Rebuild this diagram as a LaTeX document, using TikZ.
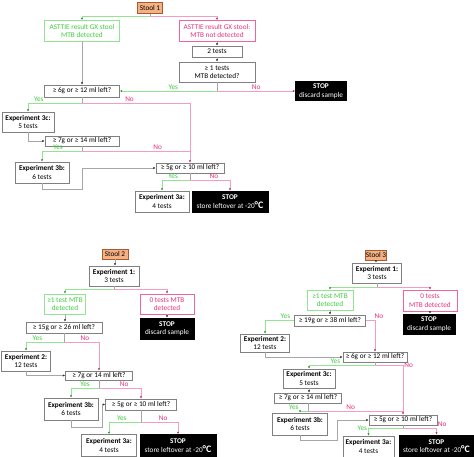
\documentclass[tikz,border=0pt]{standalone}
\usepackage{fontspec}
\setmainfont{Carlito}
\usepackage{tikz}
\usetikzlibrary{positioning,arrows.meta,calc}

\definecolor{lgreen}{HTML}{92E492}
\definecolor{tgreen}{HTML}{3CCB3C}
\definecolor{lpink}{HTML}{F59CC2}
\definecolor{tpink}{HTML}{E8307C}
\definecolor{stoolfill}{HTML}{F4B183}
\definecolor{stooldraw}{HTML}{A85A30}

\tikzset{
  box/.style={draw=gray, line width=0.6pt, align=center, inner sep=0pt,
    font=\fontsize{6.2}{7.3}\selectfont},
  sz/.style 2 args={minimum width=#1*0.03cm, minimum height=#2*0.03cm},
  stoolbox/.style={box, fill=stoolfill, draw=stooldraw},
  greenbox/.style={box, draw=lgreen, text=tgreen},
  pinkbox/.style={box, draw=tpink!75, text=tpink},
  stopbox/.style={box, fill=black, draw=black, text=white},
  gline/.style={gray!70, line width=0.5pt, -{Latex[length=2pt,width=2pt,color=black!85]}},
  yline/.style={lgreen, line width=0.5pt, -{Latex[length=2pt,width=2pt,color=tgreen!70!black]}},
  nline/.style={lpink, line width=0.5pt, -{Latex[length=2pt,width=2pt,color=tpink!80!black]}},
  ylbl/.style={text=tgreen, font=\fontsize{6.2}{7.3}\selectfont, inner sep=1pt},
  nlbl/.style={text=tpink, font=\fontsize{6.2}{7.3}\selectfont, inner sep=1pt}
}
\newcommand{\degC}{{\fontsize{8.5}{8.5}\selectfont\bfseries °C}}

\begin{document}
\begin{tikzpicture}[x=0.03cm,y=-0.03cm]
            \useasboundingbox (0,0) rectangle (474,457);

            \node[stoolbox, sz={25}{11}] (s1) at (150,8) {Stool 1};
            \node[greenbox, sz={75}{21}] (ggx) at (82,31) {ASTTIE result GX stool\\MTB detected};
            \node[pinkbox, sz={76}{21}] (pgx) at (217,31) {ASTTIE result GX stool:\\MTB not detected};
            \node[box, sz={50}{11}] (t2) at (217,51.5) {2 tests};
            \node[box, sz={76}{20}] (q1) at (217,72) {≥ 1 tests\\MTB detected?};
            \node[stopbox, sz={51}{19}] (stop1) at (321,91) {\textbf{STOP}\\discard sample};
            \node[box, sz={75}{12}] (q6) at (82,91) {≥ 6g or ≥ 12 ml left?};
            \node[box, sz={52}{20}] (e3c) at (28,122) {\textbf{Experiment 3c:}\\5 tests};
            \node[box, sz={74}{10}] (q7) at (82,141) {≥ 7g or ≥ 14 ml left?};
            \node[box, sz={54}{21}] (e3b) at (42,172.5) {\textbf{Experiment 3b:}\\6 tests};
            \node[box, sz={68}{10}] (q5) at (190,168) {≥ 5g or ≥ 10 ml left?};
            \node[box, sz={54}{21}] (e3a) at (162,201.5) {\textbf{Experiment 3a:}\\4 tests};
            \node[stopbox, sz={76}{21}] (stop2) at (230,201.5) {\textbf{STOP}\\store leftover at -20\degC};

            \coordinate (j1) at (150,16);
            \coordinate (j2) at (217,91);
            \coordinate (j3) at (82,103);
            \coordinate (j4) at (82,151);
            \coordinate (j5) at (190,180);
            \draw[gline,-] (s1.south) -- (j1);
            \draw[yline] (j1) -| (ggx.north);
            \draw[nline] (j1) -| (pgx.north);
            \draw[gline] (pgx.south) -- (t2.north);
            \draw[gline] (t2.south) -- (q1.north);
            \draw[gline,-] (q1.south) -- (j2);
            \draw[yline] (j2) -- node[ylbl,above,pos=0.45] {Yes} (q6.east);
            \draw[nline] (j2) -- node[nlbl,above,pos=0.5] {No} (stop1.west);
            \draw[gline] (ggx.south) -- (q6.north);
            \draw[gline,-] (q6.south) -- (j3);
            \draw[yline] (j3) -| node[ylbl,above,pos=0.4] {Yes} (e3c.north);
            \draw[nline] (j3) -| node[nlbl,above,pos=0.22] {No} (q5.north);
            \draw[gline] (e3c.south) |- (q7.west);
            \draw[gline,-] (q7.south) -- (j4);
            \draw[yline] (j4) -| node[ylbl,above,pos=0.3] {Yes} (e3b.north);
            \draw[nline,-] (j4) -- node[nlbl,above,pos=0.7] {No} (j4 -| q5);
            \draw[gline] (e3b.south) |- (82,189) |- (q5.west);
            \draw[gline,-] (q5.south) -- (j5);
            \draw[yline] (j5) -| node[ylbl,above,pos=0.3] {Yes} (e3a.north);
            \draw[nline] (j5) -| node[nlbl,above,pos=0.3] {No} (stop2.north);

            \node[stoolbox, sz={26}{10}] (s2) at (115,254) {Stool 2};
            \node[box, sz={50}{20}] (e1b) at (114,276) {\textbf{Experiment 1:}\\3 tests};
            \node[greenbox, sz={41}{20}] (g2) at (65,304) {≥1 test MTB\\detected};
            \node[pinkbox, sz={54}{20}] (p2) at (167,304) {0 tests MTB\\detected};
            \node[stopbox, sz={54}{21}] (stop3) at (167,328.5) {\textbf{STOP}\\discard sample};
            \node[box, sz={76}{11}] (q15) at (64,327.5) {≥ 15g or ≥ 26 ml left?};
            \node[box, sz={49}{20}] (e2b) at (26,361) {\textbf{Experiment 2:}\\12 tests};
            \node[box, sz={67}{9}] (q7b) at (99,375.5) {≥ 7g or 14 ml left?};
            \node[box, sz={54}{22}] (e3bb) at (71,409) {\textbf{Experiment 3b:}\\6 tests};
            \node[box, sz={71}{11}] (q5b) at (141,404.5) {≥ 5g or ≥ 10 ml left?};
            \node[box, sz={55}{22}] (e3ab) at (109,445.5) {\textbf{Experiment 3a:}\\4 tests};
            \node[stopbox, sz={76}{22}] (stop4) at (178,445.5) {\textbf{STOP}\\store leftover at -20\degC};

            \coordinate (j6) at (114,289);
            \coordinate (j7) at (64,342);
            \coordinate (j8) at (99,388);
            \coordinate (j9) at (141,422);
            \draw[gline] (s2.south) -- (s2.south |- e1b.north);
            \draw[gline,-] (e1b.south) -- (j6);
            \draw[yline] (j6) -| (g2.north);
            \draw[nline] (j6) -| (p2.north);
            \draw[gline] (p2.south) -- (stop3.north);
            \draw[gline] (g2.south) -- (g2.south |- q15.north);
            \draw[gline,-] (q15.south) -- (j7);
            \draw[yline] (j7) -| node[ylbl,above,pos=0.35] {Yes} (e2b.north);
            \draw[nline] (j7) -| node[nlbl,above,pos=0.3] {No} (q7b.north);
            \draw[gline] (e2b.south) |- (q7b.west);
            \draw[gline,-] (q7b.south) -- (j8);
            \draw[yline] (j8) -| node[ylbl,above,pos=0.25] {Yes} (e3bb.north);
            \draw[nline] (j8) -| node[nlbl,above,pos=0.3] {No} (q5b.north);
            \draw[gline] (e3bb.south) |- (102,427) |- (q5b.west);
            \draw[gline,-] (q5b.south) -- (j9);
            \draw[yline] (j9) -| node[ylbl,above,pos=0.3] {Yes} (e3ab.north);
            \draw[nline] (j9) -| node[nlbl,above,pos=0.3] {No} (stop4.north);

            \node[stoolbox, sz={21}{10}] (s3) at (376,255) {Stool 3};
            \node[box, sz={49}{20}] (e1c) at (377,273) {\textbf{Experiment 1:}\\3 tests};
            \node[greenbox, sz={46}{20}] (g3) at (330,300) {≥1 test MTB\\detected};
            \node[pinkbox, sz={54}{21}] (p3) at (430,300.5) {0 tests\\MTB detected};
            \node[stopbox, sz={52}{20}] (stop5) at (429,324) {\textbf{STOP}\\discard sample};
            \node[box, sz={71}{11}] (q19) at (330,320.5) {≥ 19g or ≥ 38 ml left?};
            \node[box, sz={49}{18}] (e2c) at (265,343) {\textbf{Experiment 2:}\\12 tests};
            \node[box, sz={64}{10}] (q6c) at (375,357) {≥ 6g or ≥ 12 ml left?};
            \node[box, sz={52}{19}] (e3cc) at (309,378.5) {\textbf{Experiment 3c:}\\5 tests};
            \node[box, sz={67}{10}] (q7c) at (308,398) {≥ 7g or ≥ 14 ml left?};
            \node[box, sz={55}{22}] (e3bc) at (300,424) {\textbf{Experiment 3b:}\\6 tests};
            \node[box, sz={68}{10}] (q5c) at (403,420) {≥ 5g or ≥ 10 ml left?};
            \node[box, sz={51}{21}] (e3ac) at (368.5,446.5) {\textbf{Experiment 3a:}\\4 tests};
            \node[stopbox, sz={74}{22}] (stop6) at (436.5,446) {\textbf{STOP}\\store leftover at -20\degC};

            \coordinate (j10) at (377,287);
            \coordinate (j11) at (375,365);
            \coordinate (j12) at (308,411);
            \coordinate (j13) at (403,428);
            \draw[gline] (s3.south) -- (s3.south |- e1c.north);
            \draw[gline,-] (e1c.south) -- (j10);
            \draw[yline] (j10) -| (g3.north);
            \draw[nline] (j10) -| (p3.north);
            \draw[gline] (p3.south) -- (p3.south |- stop5.north);
            \draw[gline] (g3.south) -- (q19.north);
            \draw[yline] (q19.west) -| node[ylbl,above,pos=0.15] {Yes} (e2c.north);
            \draw[nline] (q19.east) -| node[nlbl,above right,pos=0.4] {No} (q6c.north);
            \draw[gline] (e2c.south) |- (q6c.west);
            \draw[gline,-] (q6c.south) -- (j11);
            \draw[yline] (j11) -| node[ylbl,above,pos=0.3] {Yes} (e3cc.north);
            \draw[nline] (j11) -| node[nlbl,right,pos=0.5] {No} (q5c.north);
            \draw[gline] (e3cc.south) -- (e3cc.south |- q7c.north);
            \draw[gline,-] (q7c.south) -- (j12);
            \draw[yline] (j12) -| node[ylbl,above left,pos=0.5] {Yes} (e3bc.north);
            \draw[nline,-] (j12) -- node[nlbl,above,pos=0.45] {No} (j12 -| q5c);
            \draw[gline] (e3bc.south) |- (337,440) |- (q5c.west);
            \draw[gline,-] (q5c.south) -- (j13);
            \draw[yline] (j13) -| node[ylbl,above left,pos=0.79] {Yes} (e3ac.north);
            \draw[nline] (j13) -| node[nlbl,above right,pos=0.5] {No} (stop6.north);
\end{tikzpicture}
\end{document}
